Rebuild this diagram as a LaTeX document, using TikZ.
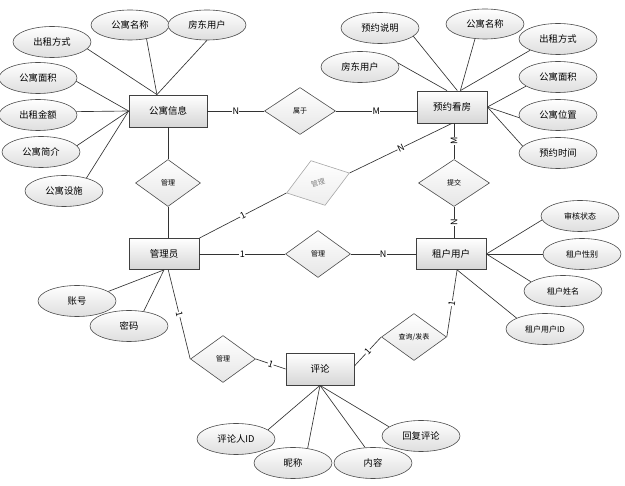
\documentclass[tikz,border=0pt]{standalone}
\usepackage{fontspec}
\setmainfont{Noto Sans CJK SC}
\usetikzlibrary{shapes.geometric}
\begin{document}
\begin{tikzpicture}[x=1pt,y=-1pt,
  ent/.style={draw=black!75, line width=0.8pt, top color=white, bottom color=black!16,
    minimum width=70pt, minimum height=31pt, inner sep=0pt, font=\fontsize{9.5}{10}\selectfont},
  attr/.style={ellipse, draw=black!70, line width=0.6pt, top color=white, bottom color=black!13,
    minimum width=78pt, minimum height=31pt, inner sep=0pt, font=\fontsize{9.3}{10}\selectfont},
  sattr/.style={attr, font=\fontsize{8}{9}\selectfont},
  rel/.style={diamond, draw=black!70, line width=0.6pt, top color=white, bottom color=black!10,
    minimum width=65pt, minimum height=47pt, inner sep=0pt, font=\fontsize{7}{8}\selectfont},
  greyrel/.style={rel, draw=black!35, text=black!50, bottom color=black!7},
  lnk/.style={draw=black!80, line width=0.65pt},
  card/.style={fill=white, inner sep=0.4pt, font=\fontsize{9}{9}\selectfont}]
\useasboundingbox (0,0) rectangle (625,486);

% entities
\node[ent, minimum width=78pt, minimum height=32pt] (gy) at (168,111) {公寓信息};
\node[ent, minimum height=32pt] (yy) at (452,107) {预约看房};
\node[ent] (gl) at (164,254) {管理员};
\node[ent] (zh) at (451,254) {租户用户};
\node[ent, minimum width=68pt, minimum height=32pt] (pl) at (320,369) {评论};

% relationships
\node[rel, minimum width=71pt] (sy) at (300,111) {属于};
\node[rel] (m1) at (168,183) {管理};
\node[greyrel, minimum width=66pt, rotate=17.6] (m2) at (318,183) {管理};
\node[rel, minimum width=71pt] (tj) at (454,183) {提交};
\node[rel] (m3) at (318,254) {管理};
\node[rel] (m4) at (223,359) {管理};
\node[rel] (cx) at (414,337) {查询/发表};

% attributes of 公寓信息
\node[attr] (a1) at (52,42) {出租方式};
\node[attr, minimum height=30pt] (a2) at (130,25) {公寓名称};
\node[attr, minimum height=30pt] (a3) at (207,25) {房东用户};
\node[attr] (a4) at (38,78) {公寓面积};
\node[attr] (a5) at (38,115) {出租金额};
\node[attr] (a6) at (41,152) {公寓简介};
\node[attr] (a7) at (64,191) {公寓设施};

% attributes of 预约看房
\node[attr] (b1) at (380,28) {预约说明};
\node[attr, minimum height=30pt] (b2) at (485,24) {公寓名称};
\node[attr] (b3) at (558,39) {出租方式};
\node[attr] (b4) at (360,67) {房东用户};
\node[attr] (b5) at (558,77) {公寓面积};
\node[attr] (b6) at (558,115) {公寓位置};
\node[attr] (b7) at (558,153) {预约时间};

% attributes of 管理员
\node[attr] (c1) at (77,301) {账号};
\node[attr] (c2) at (129,326) {密码};

% attributes of 评论
\node[attr] (d1) at (236,439) {评论人ID};
\node[attr] (d2) at (293,463) {昵称};
\node[attr] (d3) at (373,463) {内容};
\node[attr] (d4) at (421,436) {回复评论};

% attributes of 租户用户
\node[sattr] (e1) at (580,216) {审核状态};
\node[sattr] (e2) at (582,254) {租户性别};
\node[sattr] (e3) at (563,291) {租户姓名};
\node[sattr] (e4) at (545,329) {租户用户ID};

% relationship connectors
\draw[lnk] (gy.east) -- node[card]{N} (sy.west);
\draw[lnk] (sy.east) -- node[card]{M} (sy.east -| yy.west);
\draw[lnk] (gy.south) -- (m1.north);
\draw[lnk] (m1.south) -- (m1.south |- gl.north);
\draw[lnk] (gl.east) -- node[card]{1} (m3.west);
\draw[lnk] (m3.east) -- node[card]{N} (zh.west);
\draw[lnk] (gl.north east) -- node[card, sloped]{1} (m2.west);
\draw[lnk] (m2.east) -- node[card, sloped]{N} (yy.south);
\draw[lnk] (tj.north |- yy.south) -- node[card, rotate=90]{M} (tj.north);
\draw[lnk] (tj.south) -- node[card, rotate=90]{N} (tj.south |- zh.north);
\draw[lnk] (gl.-75) -- node[card, sloped]{1} (m4.west);
\draw[lnk] (m4.east) -- node[card, sloped]{1} (pl.west);
\draw[lnk] (pl.5) -- node[card, sloped]{1} (cx.west);
\draw[lnk] (cx.east) -- node[card, sloped]{1} (zh.-69);

% attribute connectors
\draw[lnk] (a1.-11) -- (gy.124.5);
\draw[lnk] (a2.-40) -- (gy.124.5);
\draw[lnk] (a3.south) -- (gy.124.5);
\draw[lnk] (a4.-5) -- (gy.west);
\draw[lnk] (a5.5) -- (gy.west);
\draw[lnk] (a6.10) -- (gy.west);
\draw[lnk] (a7.30) -- (gy.west);

\draw[lnk] (b1.-14) -- (yy.72);
\draw[lnk] (b2.-124) -- (yy.63);
\draw[lnk] (b3.-158) -- (yy.63);
\draw[lnk] (b4.6) -- (yy.107);
\draw[lnk] (b5.-164) -- (yy.east);
\draw[lnk] (b6.-176) -- (yy.east);
\draw[lnk] (b7.169) -- (yy.east);

\draw[lnk] (c1.17) -- (gl.south);
\draw[lnk] (c2.45) -- (gl.south);

\draw[lnk] (d1.16) -- (pl.south);
\draw[lnk] (d2.45) -- (pl.south);
\draw[lnk] (d3.117) -- (pl.south);
\draw[lnk] (d4.164) -- (pl.south);

\draw[lnk] (e1.-174) -- (zh.east);
\draw[lnk] (e2.west) -- (zh.east);
\draw[lnk] (e3.164) -- (zh.east);
\draw[lnk] (e4.159) -- (zh.-69);
\end{tikzpicture}
\end{document}
